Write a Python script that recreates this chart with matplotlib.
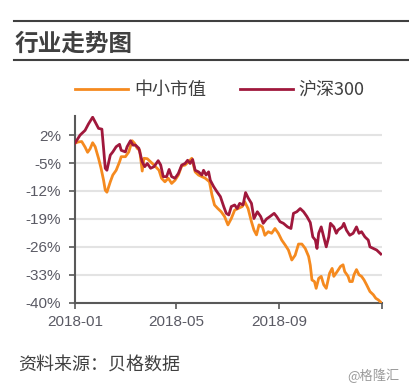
import pandas as pd
import matplotlib
matplotlib.use('Agg')
import matplotlib.pyplot as plt

plt.rcParams['font.family'] = ['Liberation Sans', 'Noto Sans CJK SC', 'DejaVu Sans']

# 沪深300, cumulative change in %
hs300_dates = ['2018-01-01', '2018-01-07', '2018-01-13', '2018-01-17', '2018-01-22', '2018-01-25',
               '2018-01-29', '2018-02-02', '2018-02-04', '2018-02-06', '2018-02-08', '2018-02-12',
               '2018-02-15', '2018-02-19', '2018-02-23', '2018-02-25', '2018-03-02', '2018-03-04',
               '2018-03-08', '2018-03-11', '2018-03-14', '2018-03-18', '2018-03-22', '2018-03-25',
               '2018-03-28', '2018-04-01', '2018-04-05', '2018-04-10', '2018-04-13', '2018-04-16',
               '2018-04-20', '2018-04-23', '2018-04-26', '2018-04-30', '2018-05-04', '2018-05-08',
               '2018-05-12', '2018-05-15', '2018-05-18', '2018-05-21', '2018-05-24', '2018-05-28',
               '2018-06-01', '2018-06-03', '2018-06-06', '2018-06-09', '2018-06-11', '2018-06-15',
               '2018-06-19', '2018-06-23', '2018-06-27', '2018-06-30', '2018-07-03', '2018-07-06',
               '2018-07-10', '2018-07-13', '2018-07-16', '2018-07-20', '2018-07-23', '2018-07-26',
               '2018-07-30', '2018-08-02', '2018-08-06', '2018-08-10', '2018-08-13', '2018-08-17',
               '2018-08-21', '2018-08-26', '2018-08-29', '2018-09-02', '2018-09-06', '2018-09-11',
               '2018-09-15', '2018-09-18', '2018-09-22', '2018-09-26', '2018-09-30', '2018-10-04',
               '2018-10-08', '2018-10-11', '2018-10-14', '2018-10-16', '2018-10-18', '2018-10-21',
               '2018-10-24', '2018-10-27', '2018-10-30', '2018-11-01', '2018-11-05', '2018-11-08',
               '2018-11-10', '2018-11-15', '2018-11-17', '2018-11-20', '2018-11-24', '2018-11-28',
               '2018-12-02', '2018-12-05', '2018-12-08', '2018-12-12', '2018-12-16', '2018-12-18',
               '2018-12-22', '2018-12-26', '2018-12-31']
hs300_vals = [0.0, 2.0, 3.2, 4.8, 6.5, 5.3,
              3.7, 3.5, -1.3, -6.3, -6.8, -3.0,
              -2.2, -0.9, -0.3, -1.8, -2.2, -0.9,
              0.6, -0.5, -0.5, -1.3, -4.7, -5.9,
              -5.1, -6.3, -5.9, -4.4, -5.5, -8.4,
              -8.4, -6.6, -8.4, -8.8, -7.6, -5.5,
              -5.1, -4.3, -5.1, -4.1, -6.8, -7.2,
              -8.0, -6.8, -8.0, -7.2, -9.3, -10.9,
              -12.2, -13.4, -15.9, -17.6, -18.0, -15.9,
              -15.5, -16.4, -15.1, -15.5, -12.4, -13.7,
              -15.1, -18.9, -17.2, -18.4, -20.1, -19.0,
              -18.4, -17.6, -18.4, -19.7, -20.1, -21.0,
              -21.4, -17.6, -17.2, -16.4, -17.2, -18.4,
              -19.9, -23.5, -24.3, -26.4, -22.6, -21.0,
              -23.5, -26.0, -23.5, -20.1, -21.0, -22.6,
              -21.8, -21.0, -20.1, -21.8, -23.1, -22.6,
              -21.0, -22.6, -22.2, -23.5, -24.3, -26.0,
              -26.4, -26.8, -27.8]

# 中小市值
small_dates = ['2018-01-01', '2018-01-05', '2018-01-09', '2018-01-13', '2018-01-16', '2018-01-19',
               '2018-01-22', '2018-01-25', '2018-01-29', '2018-02-01', '2018-02-04', '2018-02-06',
               '2018-02-08', '2018-02-12', '2018-02-15', '2018-02-19', '2018-02-23', '2018-02-25',
               '2018-03-02', '2018-03-06', '2018-03-10', '2018-03-13', '2018-03-16', '2018-03-19',
               '2018-03-22', '2018-03-24', '2018-03-28', '2018-04-01', '2018-04-05', '2018-04-11',
               '2018-04-14', '2018-04-18', '2018-04-22', '2018-04-26', '2018-04-30', '2018-05-04',
               '2018-05-08', '2018-05-12', '2018-05-16', '2018-05-20', '2018-05-24', '2018-05-28',
               '2018-06-01', '2018-06-05', '2018-06-10', '2018-06-13', '2018-06-16', '2018-06-20',
               '2018-06-24', '2018-06-28', '2018-07-02', '2018-07-06', '2018-07-10', '2018-07-14',
               '2018-07-19', '2018-07-22', '2018-07-26', '2018-07-30', '2018-08-02', '2018-08-05',
               '2018-08-08', '2018-08-12', '2018-08-15', '2018-08-19', '2018-08-23', '2018-08-27',
               '2018-08-31', '2018-09-04', '2018-09-08', '2018-09-12', '2018-09-16', '2018-09-20',
               '2018-09-24', '2018-09-28', '2018-10-02', '2018-10-06', '2018-10-08', '2018-10-10',
               '2018-10-13', '2018-10-15', '2018-10-18', '2018-10-21', '2018-10-24', '2018-10-27',
               '2018-10-31', '2018-11-03', '2018-11-05', '2018-11-09', '2018-11-13', '2018-11-16',
               '2018-11-18', '2018-11-22', '2018-11-24', '2018-11-27', '2018-11-29', '2018-12-02',
               '2018-12-05', '2018-12-08', '2018-12-11', '2018-12-14', '2018-12-18', '2018-12-22',
               '2018-12-25', '2018-12-28', '2018-12-31']
small_vals = [0.0, 0.3, 0.4, -1.0, -2.3, -1.4,
              0.1, -0.9, -3.8, -6.3, -9.3, -11.8,
              -12.3, -9.7, -8.0, -6.8, -4.7, -3.4,
              -3.4, -2.2, 0.6, -0.1, -1.3, -1.8,
              -7.0, -3.8, -3.9, -4.7, -5.5, -6.8,
              -8.8, -9.7, -8.8, -10.1, -9.3, -8.0,
              -5.7, -5.5, -4.7, -3.8, -7.2, -8.0,
              -8.4, -8.8, -9.7, -13.0, -15.5, -16.4,
              -17.2, -18.4, -20.5, -18.9, -16.8, -16.4,
              -15.9, -14.7, -16.4, -19.7, -21.8, -23.0,
              -20.5, -21.0, -23.1, -22.2, -22.6, -21.4,
              -22.6, -24.3, -25.5, -26.8, -29.3, -28.1,
              -25.3, -25.3, -26.4, -28.4, -30.6, -34.3,
              -34.7, -36.4, -33.9, -33.4, -35.5, -36.4,
              -32.6, -31.4, -33.4, -32.2, -30.9, -30.5,
              -32.2, -33.4, -34.7, -34.7, -33.0, -31.7,
              -33.0, -33.4, -34.3, -35.5, -37.2, -38.0,
              -38.9, -39.3, -39.9]

y_ticks = [2, -5, -12, -19, -26, -33, -40]
x_ticks = ['2018-01-01', '2018-05-01', '2018-09-01', '2019-01-01']
x_labels = ['2018-01', '2018-05', '2018-09', '']

orange = '#F58A1F'
red = '#A0183C'
dark = '#404040'
tick_col = '#595959'

fig = plt.figure(figsize=(4.09, 3.89), dpi=100)

# header rules and title
fig.add_artist(plt.Line2D([14 / 409, 1], [1 - 20.7 / 389] * 2, color=dark, lw=1.5))
fig.add_artist(plt.Line2D([14 / 409, 1], [1 - 60 / 389] * 2, color=dark, lw=1.5))
fig.text(15 / 409, 1 - 43.5 / 389, '行业走势图', family='Noto Sans CJK SC', fontsize=17,
         fontweight='bold', color=dark, va='center', ha='left')

ax = fig.add_axes([75 / 409, 1 - 302.7 / 389, 306.7 / 409, (302.7 - 116) / 389])

ax.plot(pd.to_datetime(small_dates), small_vals, color=orange, lw=2.0, label='中小市值', zorder=3)
ax.plot(pd.to_datetime(hs300_dates), hs300_vals, color=red, lw=2.0, label='沪深300', zorder=4)

ax.set_ylim(-40, 6.8)
ax.set_xlim(pd.Timestamp('2018-01-01'), pd.Timestamp('2019-01-01'))
ax.set_yticks(y_ticks)
ax.set_yticklabels([f'{v}%' for v in y_ticks])
ax.set_xticks(pd.to_datetime(x_ticks))
ax.set_xticklabels(x_labels)

ax.grid(axis='y', color='#E3E3E3', lw=1.5, zorder=0)
ax.set_axisbelow(True)
for s in ['top', 'right']:
    ax.spines[s].set_visible(False)
for s in ['left', 'bottom']:
    ax.spines[s].set_color(tick_col)
    ax.spines[s].set_linewidth(1.5)
ax.tick_params(axis='both', colors=tick_col, labelsize=11, length=4, width=1.2)
ax.tick_params(axis='y', pad=6)
ax.tick_params(axis='x', pad=5)
for lab in ax.get_xticklabels() + ax.get_yticklabels():
    lab.set_color('#5a5a64')

fig.legend(loc='center', bbox_to_anchor=(220 / 409, 1 - 90 / 389), ncol=2, frameon=False,
           prop={'family': 'Noto Sans CJK SC', 'size': 13}, handlelength=2.9,
           handletextpad=0.35, columnspacing=1.9, labelcolor=dark)

fig.text(18 / 409, 1 - 366 / 389, '资料来源：贝格数据', family='Noto Sans CJK SC', fontsize=13,
         color=dark, va='center', ha='left')
fig.text(400 / 409, 1 - 376 / 389, '@格隆汇', family='Noto Sans CJK SC', fontsize=9.5,
         color='#9a9a9a', va='center', ha='right')

fig.savefig('out.png', dpi=100)
